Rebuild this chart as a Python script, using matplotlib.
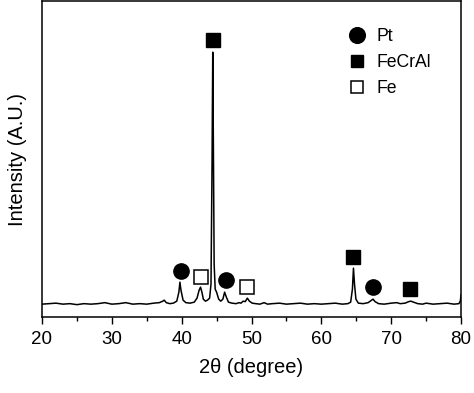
import matplotlib
matplotlib.use("Agg")
import matplotlib.pyplot as plt
from matplotlib.ticker import MultipleLocator
from matplotlib.lines import Line2D

plt.rcParams["font.family"] = ["Liberation Sans", "DejaVu Sans"]

# ---------------------------------------------------------------------------
# XRD pattern (2theta in degree, intensity in a.u.)
# ---------------------------------------------------------------------------
two_theta = [20.0, 21.0, 22.0, 23.0, 24.0, 25.0, 26.0, 27.0, 28.0, 29.0,
             30.0, 31.0, 32.0, 33.0, 34.0, 35.0, 36.0, 36.8, 37.3, 37.5,
             37.8, 38.3, 38.8, 39.3, 39.6, 39.75, 39.9, 40.2, 40.6, 41.2,
             41.8, 42.2, 42.5, 42.7, 42.9, 43.1, 43.4, 43.7, 44.0, 44.2,
             44.35, 44.45, 44.55, 44.65, 44.8, 45.0, 45.3, 45.6, 45.9, 46.15,
             46.4, 46.7, 47.2, 47.8, 48.2, 48.5, 48.8, 49.1, 49.4, 49.7,
             50.1, 50.6, 51.2, 51.8, 52.3, 53.0, 54.0, 55.0, 56.0, 57.0,
             58.0, 59.0, 60.0, 61.0, 62.0, 63.0, 63.8, 64.2, 64.45, 64.6,
             64.75, 64.95, 65.3, 66.0, 66.7, 67.2, 67.4, 67.7, 68.2, 69.0,
             70.0, 70.8, 71.3, 72.0, 72.5, 72.8, 73.2, 73.8, 74.5, 75.0,
             76.0, 77.0, 78.0, 79.0, 79.7, 79.9, 80.0]
intensity = [0.0, 0.5, 1.0, 0.0, 0.5, -0.5, 0.5, 0.0, 0.5, 1.5,
             0.0, 0.5, 1.5, 0.0, 0.5, 0.0, 1.0, 1.5, 3.0, 4.0,
             1.5, 0.5, 1.0, 3.0, 12.0, 22.0, 14.0, 4.0, 1.5, 1.0,
             2.0, 6.0, 14.0, 17.0, 12.0, 5.0, 3.0, 4.0, 6.0, 20.0,
             140.0, 252.0, 150.0, 40.0, 15.0, 12.0, 5.0, 3.0, 5.0, 12.0,
             7.0, 2.0, 1.0, 0.5, 1.5, 1.0, 3.0, 2.5, 6.0, 3.0,
             1.0, 0.5, 0.0, 1.5, 0.0, 0.5, 1.0, 0.0, 0.5, 1.0,
             0.0, 0.5, 0.0, 0.5, 1.0, 0.0, 0.5, 2.0, 15.0, 36.0,
             20.0, 5.0, 1.0, 0.5, 1.5, 4.0, 5.0, 2.5, 0.5, 0.0,
             1.0, 1.5, 0.5, 1.0, 2.5, 3.0, 2.0, 0.5, 0.0, 1.0,
             0.0, 0.5, 1.0, 0.0, 0.5, 3.0, 9.0]

# phase markers above the peaks
pt_x, pt_y = [39.86, 46.4, 67.35], [33, 24, 17]
fecral_x, fecral_y = [44.49, 64.58, 72.7], [264.5, 47, 15]
fe_x, fe_y = [42.73, 49.36], [27, 17]

# ---------------------------------------------------------------------------
fig = plt.figure(figsize=(4.74, 3.93), dpi=100)
ax = fig.add_axes([0.0886, 0.193, 0.884, 0.804])

ax.plot(two_theta, intensity, color="black", linewidth=1.1)
ax.plot(pt_x, pt_y, "o", color="black", markersize=11, linestyle="none")
ax.plot(fecral_x, fecral_y, "s", color="black", markersize=10.5, linestyle="none")
ax.plot(fe_x, fe_y, "s", markerfacecolor="white", markeredgecolor="black",
        markeredgewidth=1.1, markersize=10.5, linestyle="none")

ax.set_xlim(20, 80)
ax.set_ylim(-13, 303)
ax.xaxis.set_major_locator(MultipleLocator(10))
ax.xaxis.set_minor_locator(MultipleLocator(5))
ax.set_yticks([])
ax.tick_params(axis="x", which="major", direction="out", length=5, width=1,
               labelsize=13.5, pad=5)
ax.tick_params(axis="x", which="minor", direction="out", length=3, width=1)
for s in ax.spines.values():
    s.set_linewidth(1.1)

ax.set_xlabel("2θ (degree)", fontsize=14.5, labelpad=7)
ax.set_ylabel("Intensity (A.U.)", fontsize=14.5, labelpad=11)

handles = [
    Line2D([], [], marker="o", color="black", linestyle="none", markersize=11.3),
    Line2D([], [], marker="s", color="black", linestyle="none", markersize=9),
    Line2D([], [], marker="s", markerfacecolor="white", markeredgecolor="black",
           markeredgewidth=1.1, linestyle="none", markersize=9),
]
ax.legend(handles, ["Pt", "FeCrAl", "Fe"], loc="upper left",
          bbox_to_anchor=(0.727, 0.915), frameon=False, fontsize=12.7,
          borderpad=0, borderaxespad=0, handletextpad=0.5,
          labelspacing=0.5, handlelength=1.2)

fig.savefig("out.png", dpi=100)
